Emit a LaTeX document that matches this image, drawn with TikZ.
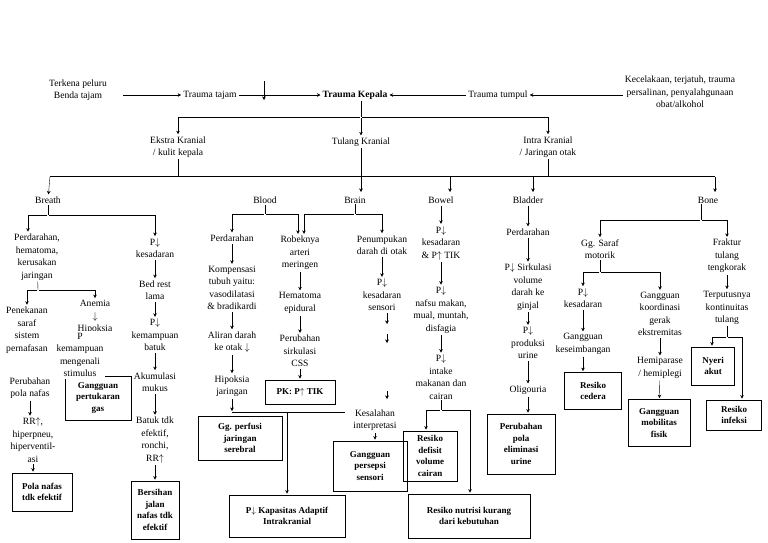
\documentclass[tikz,border=0pt]{standalone}
\usepackage{fontspec}
\setmainfont{Liberation Serif}
\usetikzlibrary{arrows.meta}
\newcommand\mydn{$\downarrow$}
\newcommand\myup{$\uparrow$}
\begin{document}
\begin{tikzpicture}[x=1pt,y=-1pt,
  t/.style={align=center,inner sep=1pt,font=\fontsize{9.6}{12.5}\selectfont},
  bx/.style={draw,thick,align=center,font=\fontsize{9}{11.5}\selectfont\bfseries,inner sep=2pt},
  ar/.style={-{Stealth[length=3.5pt,width=3.5pt]},shorten >=1pt,shorten <=1pt},
  ln/.style={draw}]
\useasboundingbox (0,0) rectangle (768,543);
% top
\node[t] (pel) at (78,90) {Terkena peluru\\Benda tajam};
\node[t] (taj) at (210,95) {Trauma tajam};
\node[t,font=\fontsize{9.6}{10}\selectfont\bfseries] (kep) at (355,95) {Trauma Kepala};
\node[t] (tum) at (498,95) {Trauma tumpul};
\node[t] (kec) at (680,92) {Kecelakaan, terjatuh, trauma\\persalinan, penyalahgunaan\\obat/alkohol};
\coordinate (pa) at (122,95);
\coordinate (sa1) at (264,80); \coordinate (sa2) at (264,101);
\draw[ar] (pa) -- (taj);
\draw[ar] (taj) -- (kep);
\draw[ar] (sa1) -- (sa2);
\draw[ar] (tum) -- (kep);
\draw[ar] (kec.west|-tum) -- (tum);
% level 1
\node[t] (eks) at (178,147) {Ekstra Kranial\\/ kulit kepala};
\node[t] (tul) at (361,142) {Tulang Kranial};
\node[t] (int) at (548,147) {Intra Kranial\\/ Jaringan otak};
\coordinate (k1) at (361,117);
\draw (kep.south-|k1) -- (k1);
\draw[ar] (k1) -| (eks);
\draw[ar] (k1) -| (int);
\draw[ar] (k1) -- (tul);
% level 2
\node[t] (brt) at (48,200) {Breath};
\node[t] (bld) at (265,200) {Blood};
\node[t] (brn) at (355,200) {Brain};
\node[t] (bow) at (441,200) {Bowel};
\node[t] (bla) at (528,200) {Bladder};
\node[t] (bon) at (708,200) {Bone};
\coordinate (b0) at (50,176); \coordinate (b1) at (715,176);
\coordinate (e1) at (178,176); \coordinate (i1) at (548,176);
\draw (b0) -- (b1);
\draw (eks) -- (e1); \draw (int) -- (i1);
\draw (tul) -- (361,176);
\draw[ar] (b0) -- (brt);
\draw[ar] (361,176) -- (361,193);
\draw[ar] (450,176) -- (450,193);
\draw[ar] (533,176) -- (533,193);
\draw[ar] (b1) -- (715,193);
% Breath
\node[t] (bp) at (37,257) {Perdarahan,\\hematoma,\\kerusakan\\jaringan};
\node[t] (bk) at (155,248) {P\mydn\\kesadaran};
\draw (brt) -- (48,215);
\draw[ar] (48,215) -| (bp.north-|28,0);
\draw[ar] (48,215) -| (bk);
\node[t] (bed) at (155,290) {Bed rest\\lama};
\node[t] (kb) at (155,335) {P\mydn\\kemampuan\\batuk};
\node[t] (ak) at (155,382) {Akumulasi\\mukus};
\node[t] (bte) at (155,440) {Batuk tdk\\efektif,\\ronchi,\\RR\myup};
\node[bx,minimum width=48pt,minimum height=58pt] (bjn) at (155,510) {Bersihan\\jalan\\nafas tdk\\efektif};
\draw[ar] (bk) -- (bed); \draw[ar] (bed) -- (kb); \draw[ar] (kb) -- (ak);
\draw[ar] (ak) -- (bte); \draw[ar] (bte) -- (bjn);
\node[t] (pen) at (27,330) {Penekanan\\saraf\\sistem\\pernafasan};
\node[t] (ane) at (95,317) {Anemia\\\mydn\\Hipoksia};
\draw (bp) -- (38,290);
\draw[ar] (38,290) -| (pen);
\draw[ar] (38,290) -| (ane);
\node[t] (ppn) at (30,388) {Perubahan\\pola nafas};
\node[bx,minimum width=66pt,minimum height=44pt] (gpg) at (98,398) {Gangguan\\pertukaran\\gas};
\node[t,fill=white,inner sep=2pt] (kms) at (80,355) {P\\kemampuan\\mengenali\\stimulus};
\node[t] (rr) at (33,440) {RR\myup,\\hiperpneu,\\hiperventil-\\asi};
\node[bx,minimum width=60pt,minimum height=38pt] (pne) at (42,492) {Pola nafas\\tdk efektif};
\draw[ar] (ppn) -- (ppn|-rr.north); \draw[ar] (rr) -- (rr|-pne.north);
% Blood
\coordinate (bl1) at (265,214);
\node[t] (bpd) at (232,238) {Perdarahan};
\node[t] (rob) at (300,253) {Robeknya\\arteri\\meringen};
\draw (bld) -- (bl1);
\draw[ar] (bl1) -| (bpd);
\draw[ar] (bl1) -| (rob.north-|298,0);
\node[t] (kom) at (232,288) {Kompensasi\\tubuh yaitu:\\vasodilatasi\\\& bradikardi};
\node[t] (ali) at (232,342) {Aliran darah\\ke otak \mydn};
\node[t] (hip) at (232,386) {Hipoksia\\jaringan};
\node[bx,minimum width=84pt,minimum height=44pt] (gpj) at (240,438) {Gg. perfusi\\jaringan\\serebral};
\draw[ar] (bpd) -- (bpd|-kom.north); \draw[ar] (kom) -- (ali); \draw[ar] (ali) -- (hip);
\coordinate (hj) at (232,412);
\draw[ar] (hip) -- (hj);
\coordinate (hk) at (287,412); \coordinate (hr) at (345,412);
\draw (hj) -- (hr);
\node[bx,minimum width=116pt,minimum height=42pt] (kai) at (287,516) {P\mydn\ Kapasitas Adaptif\\Intrakranial};
\draw[ar] (hk) -- (kai);
\node[t] (hem) at (300,303) {Hematoma\\epidural};
\node[t] (psc) at (300,351) {Perubahan\\sirkulasi\\CSS};
\node[bx,minimum width=70pt,minimum height=24pt] (pk) at (300,392) {PK: P\myup\ TIK};
\draw[ar] (rob) -- (hem); \draw[ar] (hem) -- (psc); \draw[ar] (psc) -- (pk);
% Brain
\coordinate (br1) at (355,214);
\node[t] (pnm) at (382,245) {Penumpukan\\darah di otak};
\draw (brn) -- (br1);
\draw[ar] (br1) -| (rob.north-|304,0);
\draw[ar] (br1) -| (pnm);
\node[t] (pks) at (382,295) {P\mydn\\kesadaran\\sensori};
\coordinate (m1) at (387,333); \coordinate (m2) at (387,344);
\coordinate (m3) at (387,390); \coordinate (m4) at (387,400);
\node[t] (ksl) at (375,420) {Kesalahan\\interpretasi};
\node[bx,minimum width=74pt,minimum height=50pt] (gps) at (370,466) {Gangguan\\persepsi\\sensori};
\draw[ar] (pnm) -- (pnm|-pks.north); \draw[ar] (pks.south-|387,0) -- (387,325);
\draw[ar] (m1) -- (m2); \draw[ar] (m3) -- (m4);
\draw[ar] (ksl) -- (ksl|-gps.north);
% Bowel
\node[t] (bk1) at (441,243) {P\mydn\\kesadaran\\\& P\myup\ TIK};
\node[t] (nfs) at (441,310) {P\mydn\\nafsu makan,\\mual, muntah,\\disfagia};
\node[t] (itk) at (441,377) {P\mydn\\intake\\makanan dan\\cairan};
\draw[ar] (bow) -- (bk1); \draw[ar] (bk1) -- (nfs); \draw[ar] (nfs) -- (itk);
\coordinate (bw1) at (441,410);
\node[bx,minimum width=54pt,minimum height=50pt] (rdv) at (430,456) {Resiko\\defisit\\volume\\cairan};
\node[bx,minimum width=122pt,minimum height=44pt] (rnk) at (469,516) {Resiko nutrisi kurang\\dari kebutuhan};
\draw (itk) -- (bw1);
\draw[ar] (bw1) -| (rdv.north-|426,0);
\draw[ar] (bw1) -| (rnk.north-|470,0);
% Bladder
\node[t] (bpr) at (528,232) {Perdarahan};
\node[t] (bsv) at (528,287) {P\mydn\ Sirkulasi\\volume\\darah ke\\ginjal};
\node[t] (bpu) at (528,343) {P\mydn\\produksi\\urine};
\node[t] (oli) at (528,390) {Oligouria};
\node[bx,minimum width=68pt,minimum height=60pt] (ppe) at (521,444) {Perubahan\\pola\\eliminasi\\urine};
\draw[ar] (bla) -- (bpr); \draw[ar] (bpr) -- (bsv); \draw[ar] (bsv) -- (bpu);
\draw[ar] (bpu) -- (oli); \draw[ar] (oli) -- (oli|-ppe.north);
% Bone
\coordinate (bo1) at (701,220);
\node[t] (gsm) at (600,249) {Gg. Saraf\\motorik};
\node[t] (frk) at (727,256) {Fraktur\\tulang\\tengkorak};
\draw (bon.south-|701,0) -- (bo1);
\draw[ar] (bo1) -| (gsm);
\draw[ar] (bo1) -| (frk);
\coordinate (gs1) at (600,272);
\node[t] (pk2) at (583,298) {P\mydn\\kesadaran};
\node[t] (gko) at (660,314) {Gangguan\\koordinasi\\gerak\\ekstremitas};
\draw (gsm) -- (gs1);
\draw[ar] (gs1) -| (pk2);
\draw[ar] (gs1) -| (gko);
\node[t] (gkb) at (583,344) {Gangguan\\keseimbangan};
\node[bx,minimum width=57pt,minimum height=37pt] (rce) at (593,391) {Resiko\\cedera};
\draw[ar] (pk2) -- (gkb); \draw[ar] (gkb) -- (gkb|-rce.north);
\node[t] (hmp) at (660,368) {Hemiparase\\/ hemiplegi};
\node[bx,minimum width=62pt,minimum height=47pt] (gmf) at (659,423) {Gangguan\\mobilitas\\fisik};
\draw[ar] (gko) -- (hmp); \draw[ar] (hmp) -- (gmf);
\node[t] (tpt) at (727,308) {Terputusnya\\kontinuitas\\tulang};
\draw[ar] (frk) -- (tpt);
\coordinate (tp1) at (727,337);
\node[bx,minimum width=43pt,minimum height=38pt] (nya) at (713,366) {Nyeri\\akut};
\node[bx,minimum width=55pt,minimum height=30pt] (rin) at (734,415) {Resiko\\infeksi};
\draw (tpt) -- (tp1);
\draw[ar] (tp1) -| (nya.north-|712,0);
\draw[ar] (tp1) -| (rin.north-|742,0);
\end{tikzpicture}
\end{document}
